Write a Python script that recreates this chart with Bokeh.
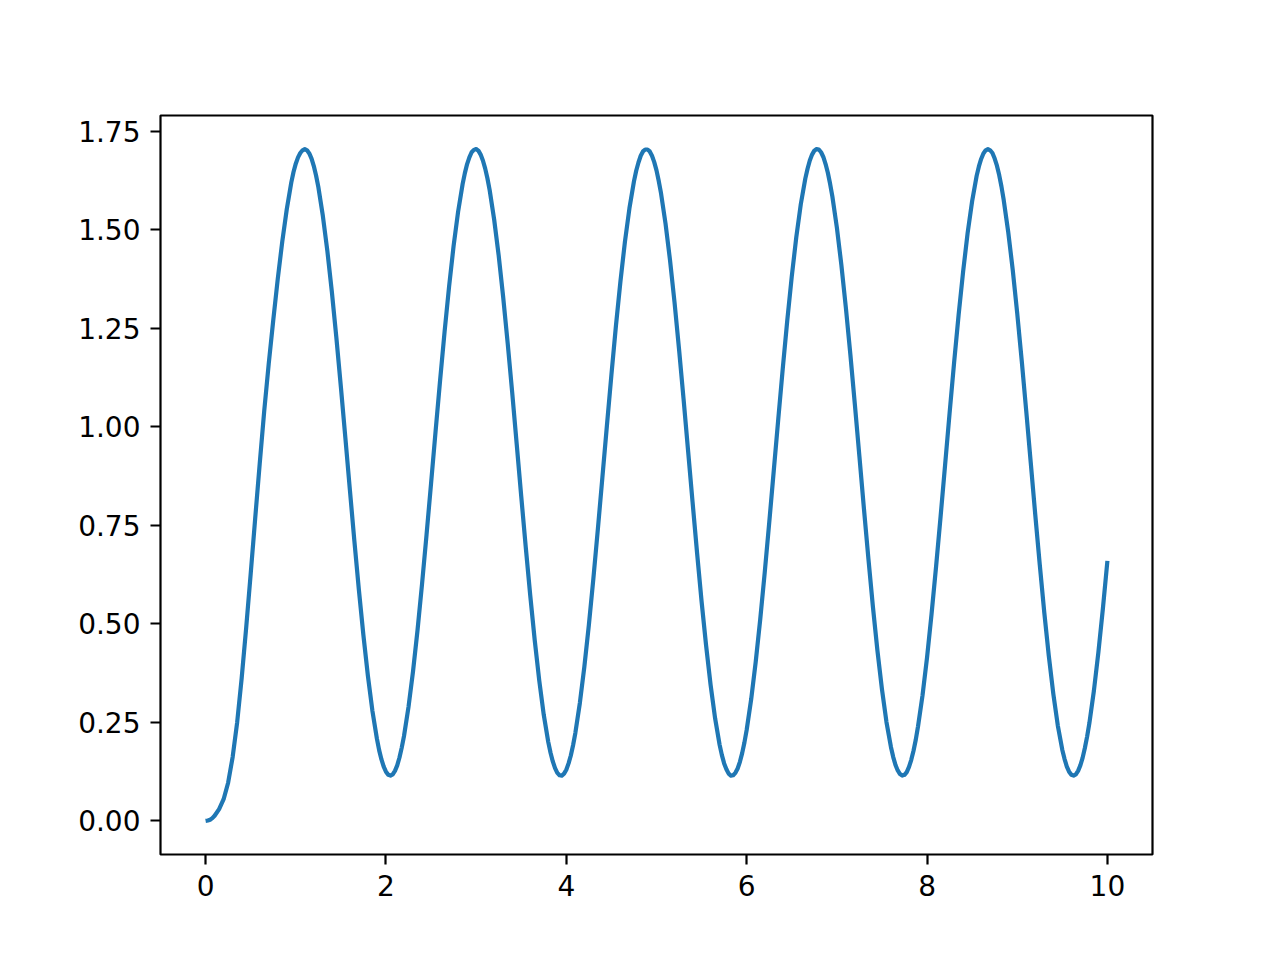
from bokeh.plotting import figure
from bokeh.models import Range1d, FixedTicker
from bokeh.embed import file_html
from bokeh.resources import INLINE

# sample times, step 0.05 from 0 to 10
t_vals = [round(0.05 * i, 2) for i in range(201)]

# curve values (0.00 .. 1.10, initial rise)
y_rise = [0.000, 0.003, 0.013, 0.030, 0.055, 0.097, 0.162, 0.250, 0.362, 0.490,
          0.627, 0.768, 0.906, 1.040, 1.160, 1.270, 1.375, 1.470, 1.552, 1.620,
          1.668, 1.695, 1.705]
# curve values (1.15 .. 10.00)
y_osc = [1.694, 1.662, 1.609, 1.536, 1.447, 1.343, 1.227, 1.102, 0.972, 0.840,
         0.710, 0.586, 0.471, 0.368, 0.279, 0.208, 0.156, 0.125, 0.115, 0.127,
         0.161, 0.215, 0.289, 0.379, 0.484, 0.601, 0.726, 0.856, 0.988, 1.117,
         1.241, 1.356, 1.459, 1.546, 1.616, 1.667, 1.697, 1.705, 1.691, 1.656,
         1.601, 1.526, 1.435, 1.329, 1.212, 1.087, 0.956, 0.824, 0.695, 0.572,
         0.458, 0.356, 0.269, 0.200, 0.151, 0.122, 0.115, 0.130, 0.166, 0.223,
         0.299, 0.391, 0.497, 0.615, 0.741, 0.872, 1.003, 1.132, 1.256, 1.369,
         1.470, 1.555, 1.623, 1.671, 1.699, 1.704, 1.688, 1.651, 1.593, 1.516,
         1.423, 1.316, 1.197, 1.071, 0.940, 0.809, 0.680, 0.557, 0.445, 0.345,
         0.260, 0.193, 0.146, 0.120, 0.116, 0.133, 0.172, 0.231, 0.309, 0.403,
         0.511, 0.630, 0.757, 0.888, 1.019, 1.148, 1.270, 1.382, 1.481, 1.565,
         1.630, 1.676, 1.701, 1.704, 1.685, 1.645, 1.585, 1.506, 1.411, 1.302,
         1.183, 1.056, 0.925, 0.793, 0.665, 0.543, 0.432, 0.334, 0.251, 0.187,
         0.142, 0.119, 0.117, 0.137, 0.178, 0.240, 0.319, 0.415, 0.525, 0.645,
         0.772, 0.903, 1.035, 1.163, 1.284, 1.394, 1.492, 1.573, 1.637, 1.680,
         1.702, 1.702, 1.681, 1.639, 1.576, 1.495, 1.399, 1.288, 1.168, 1.040,
         0.909, 0.777, 0.650, 0.529, 0.419, 0.323, 0.242, 0.180, 0.138, 0.117,
         0.118, 0.141, 0.185, 0.248, 0.330, 0.428, 0.539, 0.660]
y_vals = y_rise + y_osc

# extra readings around each peak and trough (finer spacing)
t_fine = [0.025, 0.075, 0.975, 1.025, 1.075, 1.125, 1.175, 1.225,
          1.925, 1.975, 2.025, 2.075, 2.125, 2.175,
          2.875, 2.925, 2.975, 3.025, 3.075, 3.125,
          3.825, 3.875, 3.925, 3.975, 4.025, 4.075,
          4.775, 4.825, 4.875, 4.925, 4.975, 5.025,
          5.725, 5.775, 5.825, 5.875, 5.925, 5.975,
          6.675, 6.725, 6.775, 6.825, 6.875, 6.925,
          7.625, 7.675, 7.725, 7.775, 7.825, 7.875,
          8.575, 8.625, 8.675, 8.725, 8.775, 8.825,
          9.525, 9.575, 9.625, 9.675, 9.725, 9.775]
y_fine = [0.001, 0.007, 1.647, 1.684, 1.702, 1.702, 1.681, 1.638,
          0.179, 0.138, 0.117, 0.118, 0.141, 0.186,
          1.644, 1.684, 1.703, 1.701, 1.676, 1.631,
          0.173, 0.134, 0.116, 0.120, 0.146, 0.192,
          1.650, 1.688, 1.704, 1.699, 1.672, 1.624,
          0.167, 0.131, 0.115, 0.122, 0.150, 0.199,
          1.655, 1.691, 1.705, 1.697, 1.667, 1.617,
          0.162, 0.128, 0.115, 0.124, 0.155, 0.206,
          1.661, 1.694, 1.705, 1.695, 1.663, 1.610,
          0.157, 0.125, 0.115, 0.127, 0.160, 0.214]

pts = sorted(zip(t_vals + t_fine, y_vals + y_fine))
xs = [a for a, b in pts]
ys = [b for a, b in pts]

x_ticks = [0, 2, 4, 6, 8, 10]
x_labels = ["0", "2", "4", "6", "8", "10"]
y_ticks = [0.0, 0.25, 0.5, 0.75, 1.0, 1.25, 1.5, 1.75]
y_labels = ["0.00", "0.25", "0.50", "0.75", "1.00", "1.25", "1.50", "1.75"]

p = figure(frame_width=992, frame_height=739,
           min_border_left=160, min_border_right=120,
           min_border_top=115, min_border_bottom=98,
           x_range=Range1d(-0.5, 10.5), y_range=Range1d(-0.08525, 1.79025),
           output_backend="svg", toolbar_location=None)

p.line(xs, ys, line_color="#1f77b4", line_width=4.2,
       line_join="round", line_cap="butt")

p.xgrid.visible = False
p.ygrid.visible = False
p.background_fill_color = "white"
p.border_fill_color = "white"
p.outline_line_color = "black"
p.outline_line_width = 2.2
p.outline_line_alpha = 1.0

p.xaxis.ticker = FixedTicker(ticks=x_ticks)
p.yaxis.ticker = FixedTicker(ticks=y_ticks)
p.xaxis.major_label_overrides = {v: s for v, s in zip(x_ticks, x_labels)}
p.yaxis.major_label_overrides = {v: s for v, s in zip(y_ticks, y_labels)}

for ax in (p.xaxis, p.yaxis):
    ax.axis_line_color = None
    ax.major_tick_line_color = "black"
    ax.major_tick_line_width = 2.2
    ax.major_tick_out = 10
    ax.major_tick_in = 0
    ax.minor_tick_line_color = None
    ax.major_label_text_font = "DejaVu Sans"
    ax.major_label_text_font_size = "28px"
    ax.major_label_text_color = "black"
    ax.major_label_standoff = 10

open("out.html", "w").write(file_html(p, INLINE))
